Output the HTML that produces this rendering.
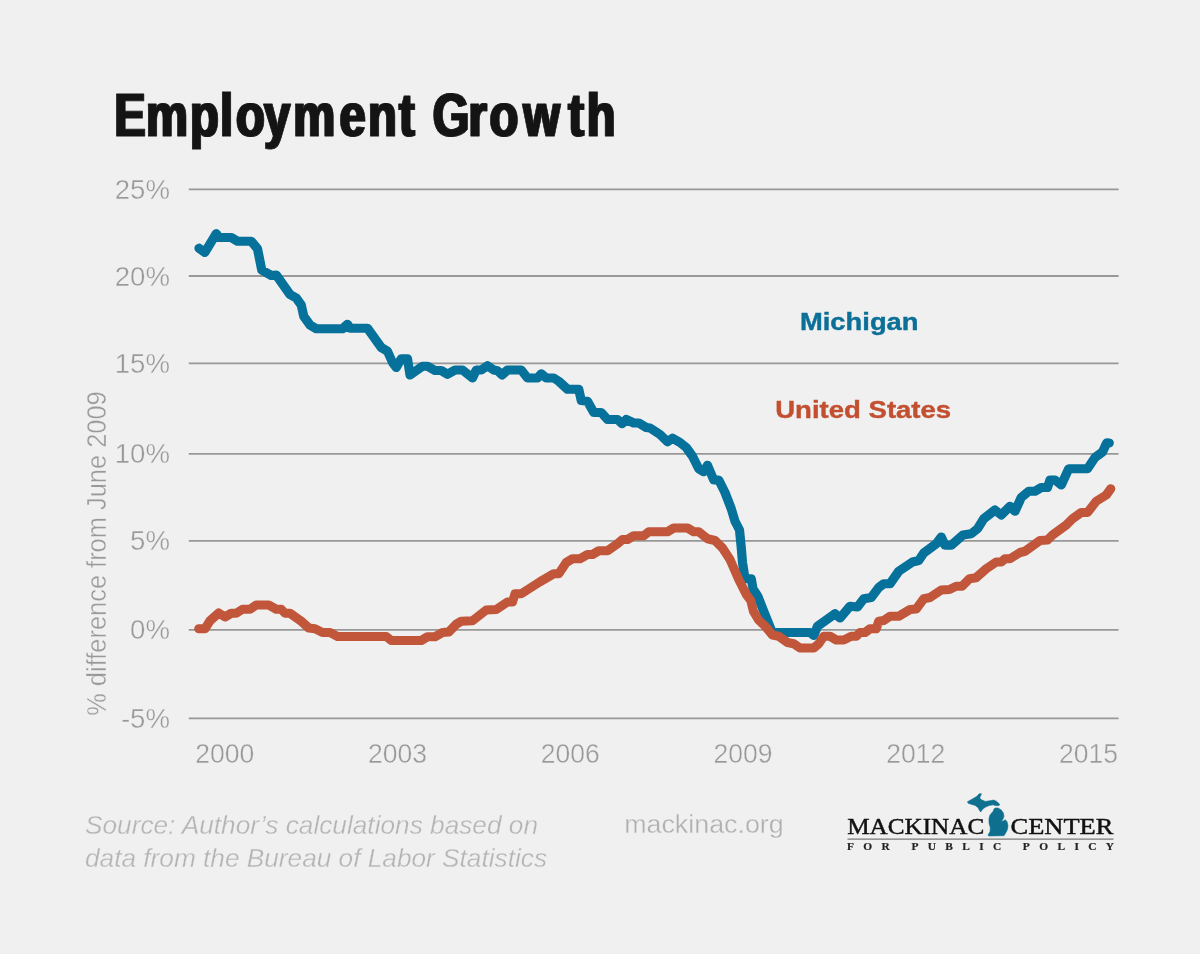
<!DOCTYPE html>
<html lang="en"><head><meta charset="utf-8">
<title>Employment Growth</title>
<style>
html,body{margin:0;padding:0;background:#f0f0f0;}
body{width:1200px;height:954px;overflow:hidden;}
svg{display:block;}
.sans{font-family:'Liberation Sans', Arial, Helvetica, sans-serif;}
.serif{font-family:'Liberation Serif', 'Times New Roman', serif;}
.tick{font-size:27.6px;fill:#999;}
.lt{stroke:#f0f0f0;stroke-width:0.38px;}
.grid{stroke:#989898;stroke-width:1.8;}
</style></head><body>
<svg width="1200" height="954" viewBox="0 0 1200 954">
<rect width="1200" height="954" fill="#f0f0f0"/>
<g opacity="0.999">
<defs><filter id="hb" x="-2%" y="-10%" width="104%" height="120%" color-interpolation-filters="sRGB"><feMorphology operator="dilate" radius="1 0"/></filter></defs>
<g filter="url(#hb)"><text class="sans" transform="scale(0.765 1)" x="149.4 190.8 248.4 287.6 308.5 345.2 383.4 443.9 481.2 521.6 542.7 565.8 612.5 639.9 683.9 742.7 766.9" y="136.45" font-size="61.6" font-weight="700" fill="#141414" stroke="#141414" stroke-width="0.8" stroke-linejoin="round">Employment Growth</text></g>
<line class="grid" x1="188.8" x2="1118.6" y1="189.3" y2="189.3"/>
<line class="grid" x1="188.8" x2="1118.6" y1="276" y2="276"/>
<line class="grid" x1="188.8" x2="1118.6" y1="363.4" y2="363.4"/>
<line class="grid" x1="188.8" x2="1118.6" y1="453.9" y2="453.9"/>
<line class="grid" x1="188.8" x2="1118.6" y1="540.9" y2="540.9"/>
<line class="grid" x1="188.8" x2="1118.6" y1="629.9" y2="629.9"/>
<line class="grid" x1="188.8" x2="1118.6" y1="718.3" y2="718.3"/>
<text class="sans tick lt" x="170" y="198.8" text-anchor="end">25%</text>
<text class="sans tick lt" x="170" y="285.5" text-anchor="end">20%</text>
<text class="sans tick lt" x="170" y="372.9" text-anchor="end">15%</text>
<text class="sans tick lt" x="170" y="463.4" text-anchor="end">10%</text>
<text class="sans tick lt" x="170" y="550.4" text-anchor="end">5%</text>
<text class="sans tick lt" x="170" y="639.4" text-anchor="end">0%</text>
<text class="sans tick lt" x="170" y="727.8" text-anchor="end">-5%</text>
<text class="sans tick lt" x="195.2" y="762.9" textLength="59" lengthAdjust="spacingAndGlyphs">2000</text>
<text class="sans tick lt" x="367.95" y="762.9" textLength="59" lengthAdjust="spacingAndGlyphs">2003</text>
<text class="sans tick lt" x="540.7" y="762.9" textLength="59" lengthAdjust="spacingAndGlyphs">2006</text>
<text class="sans tick lt" x="713.45" y="762.9" textLength="59" lengthAdjust="spacingAndGlyphs">2009</text>
<text class="sans tick lt" x="886.2" y="762.9" textLength="59" lengthAdjust="spacingAndGlyphs">2012</text>
<text class="sans tick lt" x="1058.95" y="762.9" textLength="59" lengthAdjust="spacingAndGlyphs">2015</text>
<text class="sans lt" transform="translate(105.8 715.8) rotate(-90)" font-size="27.6" fill="#999" textLength="324.5" lengthAdjust="spacingAndGlyphs">% difference from June 2009</text>
<polyline points="199,248.2 204.9,252.4 216.25,233.6 218.75,237.5 231.25,237.5 237.5,241.25 251.25,241.25 257.5,248.75 261.75,270 271.25,275.5 276.25,275 290,294.5 296.25,298 301.25,305 303.75,316.25 310,325 316.25,328.75 342.5,328.75 347.5,324.25 350,328.25 367.5,328.25 381.25,347.5 387.5,351.25 392.5,362.5 396.25,367.5 401.25,358.75 407.5,358.75 410,375 422.5,366.25 427.5,366.25 435,370.5 441.25,370.5 447.5,374.25 455,370 462.5,370 472.5,378 476.25,370 481.25,370 487.5,365.75 493.75,370 497.5,370.75 502,375 507.5,370 521.25,370 527.5,378 537.5,378 541.25,373.75 546.25,378 553.75,378 558.75,381.25 567.5,389.25 578.75,389.25 581.25,400.5 587.5,401.25 593.75,412.5 601.25,412.5 607.5,419.5 617.5,419.5 622,423.75 626.25,419.5 633.75,423 638.75,423 646.25,427.5 650,428 660,434.5 667.5,441.75 672.5,438.25 680,442.5 686.25,447.5 692.5,456.25 698.75,468.75 703.75,471.75 707.5,465.25 713.75,480 718.75,480 725,492.5 731.25,508.75 735,521.25 739.5,530 741.25,547.5 742.5,562.5 745,578.75 751.25,578.75 753,588.75 757.8,596.25 764.2,612.5 771.25,630 773.75,632.5 810,632.5 813.75,635.5 817.5,626.25 835,613.75 840,618 850,606.25 857.5,607 863.75,598.75 871.25,597.5 878.75,587.5 883.75,583.75 890,583.75 898.75,571.25 912.5,562 918.75,560.5 923.75,553 936.25,543.75 941.25,537 945,545.25 951.25,545.25 963,535 971.25,533.75 977.5,528.75 983.75,518.75 995,510 1001.25,515 1010,506.25 1015,511.25 1021.25,497.5 1028.75,491.25 1035,491.25 1041.25,487.5 1047.5,487.5 1050,480 1055,480 1061.25,485 1068.75,468.75 1087.5,468.75 1095,457.5 1102.5,452 1106.8,442.8 1109.3,443" fill="none" stroke="#06719a" stroke-width="9.2" stroke-linejoin="round" stroke-linecap="round"/>
<polyline points="198.75,628.75 205,628.75 210,620.75 218.75,613 225,617 231.25,613.25 236.25,613.25 242.5,609.25 250,609.25 256.25,605 268.75,605 276.25,609.25 281.25,609.25 285,613.25 290,613.25 301.25,621.25 308.75,628 315,628.75 322.5,632.5 330,632.5 337.5,636.5 386.25,636.5 391.25,640.5 421.25,640.5 427.5,636.75 435,636.75 442.5,632.5 448.75,632 456.25,624.25 461.25,621.25 472.5,620.75 486.25,610 496.25,609.5 507.5,602 512.5,602 515,593.75 521.25,593.75 540,581.75 553.75,573.75 558.75,573.75 566.25,562.5 572.5,558.75 580,558.75 587.5,554.5 592.5,554.5 598.75,550.75 607.5,550.75 617.5,543.75 622.5,539.5 627.5,539.5 633.75,535.75 643.75,535.75 648.75,531.75 667.5,531.75 673.75,528 687.5,528 693.75,531.75 698.75,531.75 707.5,538.75 715,540.5 722.5,548 730,559.5 738.75,579.5 746.3,594.5 750.8,600.5 753.4,611.25 758.6,620 765.2,626.25 772.5,635 778.75,636.25 787.5,642.5 793.75,643.75 800,648 813.75,648 818.75,643.75 823.75,636.25 830,636.25 836.25,640 843.75,640 851.25,636.25 856.25,636.25 860,632.5 865,632.5 870,628.75 876.25,628.75 878.75,621.25 883.75,620.5 890,616.25 898.75,616.25 910,609.5 916.25,609 923.75,598.75 930,597.5 941.25,590 949.5,589.5 956.25,586.25 962,586.25 969.5,578.75 976,577.75 986.25,568.75 996.25,562 1001.25,562 1005,558.75 1010,558.75 1020,552.5 1025,551.25 1040,540.5 1047.5,540 1052.5,535 1066.25,525 1072.5,518.75 1081.25,512.5 1087.5,512.5 1096.25,501.25 1106.25,495 1110.75,488.75" fill="none" stroke="#c1563a" stroke-width="9.1" stroke-linejoin="round" stroke-linecap="round"/>
<text class="sans" x="800" y="330.2" font-size="24.4" font-weight="700" fill="#0b6f97" stroke="#0b6f97" stroke-width="0.4" textLength="118.5" lengthAdjust="spacingAndGlyphs">Michigan</text>
<text class="sans" x="775.2" y="418.3" font-size="24.4" font-weight="700" fill="#c24f30" stroke="#c24f30" stroke-width="0.4" textLength="176" lengthAdjust="spacingAndGlyphs">United States</text>
<text class="sans lt" x="85" y="834.4" font-size="25.8" font-style="italic" fill="#b4b4b4" style="stroke-width:0.3px" textLength="453" lengthAdjust="spacingAndGlyphs">Source: Author’s calculations based on</text>
<text class="sans lt" x="85" y="866.8" font-size="25.8" font-style="italic" fill="#b4b4b4" style="stroke-width:0.3px" textLength="462" lengthAdjust="spacingAndGlyphs">data from the Bureau of Labor Statistics</text>
<text class="sans lt" x="624.2" y="833.2" font-size="26.4" fill="#b0b0b0" style="stroke-width:0.3px" textLength="159.5" lengthAdjust="spacingAndGlyphs">mackinac.org</text>
<g id="logo">
<text class="serif" x="847.2" y="834" font-size="23.4" fill="#111" stroke="#111" stroke-width="0.45" textLength="137" lengthAdjust="spacingAndGlyphs">MACKINAC</text>
<text class="serif" x="1010.6" y="834" font-size="23.4" fill="#111" stroke="#111" stroke-width="0.45" textLength="102.8" lengthAdjust="spacingAndGlyphs">CENTER</text>
<polygon points="967.47,801.80 972.00,799.13 976.67,796.47 979.20,793.80 981.47,793.80 979.67,798.00 981.47,799.80 985.33,801.40 990.00,800.73 993.67,800.07 996.67,801.40 998.27,802.87 999.87,804.73 998.13,805.67 995.33,805.40 992.67,804.87 989.33,805.53 986.00,806.87 983.47,808.47 981.87,810.33 980.67,811.93 979.47,810.47 978.13,807.67 975.20,805.40 971.20,804.33 968.13,803.13" fill="#0e6f8f" stroke="#0e6f8f" stroke-width="0.6" stroke-linejoin="round"/>
<polygon points="995.33,808.00 998.00,808.00 1001.33,810.00 1003.33,813.00 1004.00,816.33 1002.67,819.67 1001.33,821.33 1003.33,821.00 1005.33,819.67 1007.00,821.67 1008.00,825.67 1007.33,829.67 1005.67,833.00 1004.00,835.67 988.67,836.00 988.00,835.00 990.00,831.67 990.33,827.67 989.00,823.00 989.00,818.33 990.00,815.00 991.67,813.00 993.33,811.00 994.00,809.00" fill="#0e6f8f" stroke="#0e6f8f" stroke-width="0.6" stroke-linejoin="round"/>
<line x1="847.5" x2="1113.5" y1="839.1" y2="839.1" stroke="#7a7a7a" stroke-width="1.4"/>
<text class="serif" x="847" y="850.4" font-size="11.4" font-weight="700" fill="#222" stroke="#222" stroke-width="0.2" textLength="267" lengthAdjust="spacing">FOR PUBLIC POLICY</text>
</g>
</g>
</svg></body></html>
